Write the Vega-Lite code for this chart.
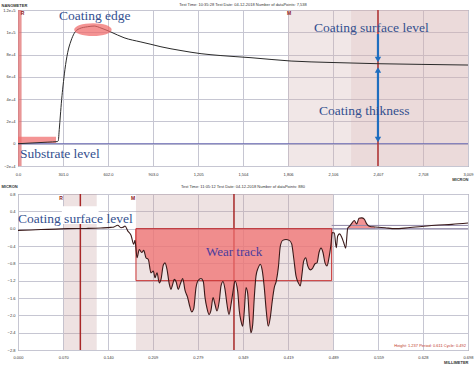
{
  "$schema": "https://vega.github.io/schema/vega-lite/v6.json",
  "background": "white",
  "padding": {"left": 0, "top": 2, "right": 0, "bottom": 0},
  "spacing": 28,
  "bounds": "flush",
  "config": {
    "font": "Liberation Sans",
    "view": {"stroke": "#777777", "strokeWidth": 1},
    "axis": {"grid": true, "gridColor": "#C6C6D2", "gridWidth": 1, "gridOpacity": 1, "domain": false, "ticks": false, "labelFontSize": 4, "labelColor": "#333333", "titleFontSize": 4, "titleFontWeight": "bold", "titleColor": "#333333", "labelOverlap": false, "labelFlush": false},
    "title": {"fontSize": 4, "fontWeight": "normal", "color": "#333333", "font": "Liberation Sans"}
  },
  "datasets": {
    "top": [
      {"micron": 0, "nm": 0}, {"micron": 100, "nm": 700}, {"micron": 200, "nm": 1400}, {"micron": 262, "nm": 1900},
      {"micron": 269, "nm": 2500}, {"micron": 276, "nm": 12900}, {"micron": 283, "nm": 24900}, {"micron": 292, "nm": 39800},
      {"micron": 301, "nm": 51800}, {"micron": 314, "nm": 66800}, {"micron": 332, "nm": 81700}, {"micron": 354, "nm": 92200},
      {"micron": 376, "nm": 99100}, {"micron": 410, "nm": 103200}, {"micron": 466, "nm": 105000}, {"micron": 510, "nm": 105600},
      {"micron": 555, "nm": 103800}, {"micron": 622, "nm": 100200}, {"micron": 709, "nm": 95100}, {"micron": 822, "nm": 91300},
      {"micron": 889, "nm": 89200}, {"micron": 956, "nm": 87000}, {"micron": 1090, "nm": 83600}, {"micron": 1224, "nm": 80800},
      {"micron": 1357, "nm": 79100}, {"micron": 1558, "nm": 77200}, {"micron": 1826, "nm": 74200}, {"micron": 2093, "nm": 72900},
      {"micron": 2407, "nm": 71800}, {"micron": 2695, "nm": 71200}, {"micron": 3009, "nm": 70600}
    ],
    "bottom": [
      {"mm": 0.0, "h": -0.04}, {"mm": 0.0202, "h": -0.03}, {"mm": 0.0357, "h": -0.02}, {"mm": 0.0589, "h": -0.01},
      {"mm": 0.0771, "h": 0.0}, {"mm": 0.1055, "h": 0.005}, {"mm": 0.1287, "h": 0.015}, {"mm": 0.1443, "h": 0.03},
      {"mm": 0.1489, "h": 0.04}, {"mm": 0.1546, "h": 0.08}, {"mm": 0.1598, "h": 0.02}, {"mm": 0.1629, "h": 0.03},
      {"mm": 0.166, "h": 0.06}, {"mm": 0.1702, "h": -0.05}, {"mm": 0.1753, "h": -0.15}, {"mm": 0.1795, "h": -0.36},
      {"mm": 0.1815, "h": -0.27}, {"mm": 0.1846, "h": -0.67}, {"mm": 0.1881, "h": -0.48}, {"mm": 0.1919, "h": -0.55},
      {"mm": 0.195, "h": -0.5}, {"mm": 0.1985, "h": -0.67}, {"mm": 0.2021, "h": -0.71}, {"mm": 0.2063, "h": -1.02},
      {"mm": 0.2099, "h": -0.98}, {"mm": 0.2125, "h": -1.13}, {"mm": 0.2156, "h": -1.02}, {"mm": 0.2192, "h": -1.25},
      {"mm": 0.2218, "h": -1.17}, {"mm": 0.2254, "h": -0.84}, {"mm": 0.228, "h": -0.79}, {"mm": 0.2311, "h": -0.94},
      {"mm": 0.2347, "h": -1.28}, {"mm": 0.2373, "h": -1.4}, {"mm": 0.24, "h": -1.28}, {"mm": 0.2424, "h": -1.17},
      {"mm": 0.2451, "h": -1.22}, {"mm": 0.2486, "h": -1.4}, {"mm": 0.2517, "h": -1.28}, {"mm": 0.2555, "h": -1.15},
      {"mm": 0.259, "h": -1.42}, {"mm": 0.2632, "h": -1.59}, {"mm": 0.2657, "h": -1.75}, {"mm": 0.2694, "h": -1.92},
      {"mm": 0.2725, "h": -1.85}, {"mm": 0.2761, "h": -1.36}, {"mm": 0.2797, "h": -1.19}, {"mm": 0.2839, "h": -1.15},
      {"mm": 0.2874, "h": -1.22}, {"mm": 0.2901, "h": -1.59}, {"mm": 0.2932, "h": -1.84}, {"mm": 0.2963, "h": -1.98},
      {"mm": 0.2994, "h": -1.88}, {"mm": 0.3025, "h": -1.59}, {"mm": 0.3056, "h": -1.75}, {"mm": 0.3087, "h": -1.9},
      {"mm": 0.3122, "h": -1.67}, {"mm": 0.3149, "h": -1.32}, {"mm": 0.318, "h": -1.22}, {"mm": 0.3211, "h": -1.4},
      {"mm": 0.3242, "h": -1.75}, {"mm": 0.3273, "h": -1.98}, {"mm": 0.3304, "h": -1.75}, {"mm": 0.3335, "h": -1.45},
      {"mm": 0.3366, "h": -1.21}, {"mm": 0.3408, "h": -1.45}, {"mm": 0.3433, "h": -1.9}, {"mm": 0.3459, "h": -2.13},
      {"mm": 0.3485, "h": -2.25}, {"mm": 0.351, "h": -1.9}, {"mm": 0.3537, "h": -1.36}, {"mm": 0.3563, "h": -1.5},
      {"mm": 0.3588, "h": -2.05}, {"mm": 0.3614, "h": -2.4}, {"mm": 0.364, "h": -2.22}, {"mm": 0.3665, "h": -1.59},
      {"mm": 0.3692, "h": -1.09}, {"mm": 0.3727, "h": -0.9}, {"mm": 0.3758, "h": -0.82}, {"mm": 0.3789, "h": -0.97},
      {"mm": 0.382, "h": -1.36}, {"mm": 0.3851, "h": -1.9}, {"mm": 0.3882, "h": -2.25}, {"mm": 0.3913, "h": -2.05},
      {"mm": 0.3944, "h": -1.67}, {"mm": 0.3975, "h": -1.36}, {"mm": 0.4006, "h": -1.21}, {"mm": 0.4038, "h": -0.9},
      {"mm": 0.4069, "h": -0.4}, {"mm": 0.4106, "h": -0.27}, {"mm": 0.4157, "h": -0.25}, {"mm": 0.4208, "h": -0.27},
      {"mm": 0.4245, "h": -0.35}, {"mm": 0.4276, "h": -0.67}, {"mm": 0.4312, "h": -1.09}, {"mm": 0.4348, "h": -1.25},
      {"mm": 0.4379, "h": -1.32}, {"mm": 0.4405, "h": -1.05}, {"mm": 0.4431, "h": -0.75}, {"mm": 0.4463, "h": -0.67},
      {"mm": 0.4494, "h": -0.86}, {"mm": 0.4534, "h": -0.95}, {"mm": 0.4571, "h": -0.91}, {"mm": 0.4607, "h": -0.81},
      {"mm": 0.4638, "h": -0.79}, {"mm": 0.4669, "h": -0.55}, {"mm": 0.47, "h": -0.45}, {"mm": 0.4731, "h": -0.55},
      {"mm": 0.4762, "h": -0.79}, {"mm": 0.4793, "h": -0.86}, {"mm": 0.4824, "h": -0.67}, {"mm": 0.4855, "h": -0.36},
      {"mm": 0.4875, "h": -0.09}, {"mm": 0.4906, "h": -0.1}, {"mm": 0.4937, "h": -0.44}, {"mm": 0.4959, "h": -0.17},
      {"mm": 0.499, "h": -0.12}, {"mm": 0.5021, "h": -0.2}, {"mm": 0.5052, "h": -0.32}, {"mm": 0.5083, "h": -0.45},
      {"mm": 0.5114, "h": 0.01}, {"mm": 0.5145, "h": 0.06}, {"mm": 0.5185, "h": 0.14}, {"mm": 0.5216, "h": 0.19},
      {"mm": 0.5254, "h": 0.11}, {"mm": 0.5289, "h": 0.24}, {"mm": 0.5331, "h": 0.25}, {"mm": 0.5371, "h": 0.22},
      {"mm": 0.5409, "h": 0.11}, {"mm": 0.546, "h": 0.05}, {"mm": 0.5538, "h": 0.04}, {"mm": 0.5693, "h": 0.02},
      {"mm": 0.5848, "h": 0.0}, {"mm": 0.6049, "h": 0.02}, {"mm": 0.6266, "h": 0.05}, {"mm": 0.6468, "h": 0.08},
      {"mm": 0.6732, "h": 0.1}, {"mm": 0.698, "h": 0.13}
    ]
  },
  "vconcat": [
    {
      "width": 450,
      "height": 156,
      "title": {"text": "Test Time: 10:35:28   Test Date: 04-12-2018   Number of dataPoints: 7,538", "offset": -4},
      "layer": [
        {
          "data": {"values": [{}]},
          "mark": {"type": "rect", "fill": "#D2AEAE", "opacity": 0.3},
          "encoding": {
            "x": {"datum": 1806, "type": "quantitative", "scale": {"domain": [0, 3009], "nice": false, "zero": false},
                  "axis": {"values": [0, 301, 602, 903, 1205, 1504, 1806, 2106, 2407, 2708, 3009], "tickCount": 30, "labelExpr": "datum.value < 1000 ? format(datum.value, '.1f') : format(datum.value, ',')", "title": "MICRON", "titleAnchor": "end", "titlePadding": 1, "labelPadding": 6, "labelOverlap": false, "labelFlush": false, "grid": true}},
            "x2": {"datum": 2227},
            "y": {"datum": -20000, "type": "quantitative", "scale": {"domain": [-20000, 120000], "nice": false, "zero": false},
                  "axis": {"values": [-20000, 0, 20000, 40000, 60000, 80000, 100000, 120000], "tickCount": 30, "format": ",", "title": "NANOMETER", "titleAngle": 0, "titleAlign": "left", "titleBaseline": "middle", "titleX": -17, "titleY": -5, "labelPadding": 3, "labelOverlap": false, "grid": true}},
            "y2": {"datum": 120000}
          }
        },
        {
          "data": {"values": [{}]},
          "mark": {"type": "rect", "fill": "#D2AEAE", "opacity": 0.45},
          "encoding": {"x": {"datum": 2227}, "x2": {"datum": 3009}, "y": {"datum": -20000}, "y2": {"datum": 120000}}
        },
        {
          "data": {"values": [{}]},
          "mark": {"type": "rect", "fill": "#E06A6A", "opacity": 0.7},
          "encoding": {"x": {"datum": 0}, "x2": {"datum": 24}, "y": {"datum": -20000}, "y2": {"datum": 120000}}
        },
        {
          "data": {"values": [{}]},
          "mark": {"type": "rect", "fill": "#F07070", "opacity": 0.75},
          "encoding": {"x": {"datum": 0}, "x2": {"datum": 254}, "y": {"datum": 600}, "y2": {"datum": 6300}}
        },
        {
          "data": {"values": [{}]},
          "mark": {"type": "rule", "color": "#6C6CB4", "strokeWidth": 1},
          "encoding": {"x": {"datum": 0}, "x2": {"datum": 3009}, "y": {"datum": 0}}
        },
        {
          "data": {"values": [{}]},
          "mark": {"type": "rule", "color": "#B03030", "strokeWidth": 1.5},
          "encoding": {"x": {"datum": 2407}, "y": {"datum": -20000}, "y2": {"datum": 120000}}
        },
        {
          "data": {"name": "top"},
          "mark": {"type": "line", "color": "#2A2A2A", "strokeWidth": 1, "interpolate": "monotone"},
          "encoding": {"x": {"field": "micron", "type": "quantitative"}, "y": {"field": "nm", "type": "quantitative"}}
        },
        {
          "data": {"values": [{}]},
          "mark": {"type": "point", "shape": "M-1,0A1,0.34,0,1,0,1,0A1,0.34,0,1,0,-1,0Z", "size": 1400, "filled": true, "fill": "#F06A6A", "opacity": 0.72, "strokeWidth": 0},
          "encoding": {"x": {"datum": 501}, "y": {"datum": 102300}}
        },
        {
          "data": {"values": [{}]},
          "mark": {"type": "rule", "color": "#1F6EBF", "strokeWidth": 2.2},
          "encoding": {"x": {"datum": 2407}, "y": {"datum": 98400}, "y2": {"datum": 75500}}
        },
        {
          "data": {"values": [{}]},
          "mark": {"type": "rule", "color": "#1F6EBF", "strokeWidth": 2.2},
          "encoding": {"x": {"datum": 2407}, "y": {"datum": 66000}, "y2": {"datum": 3800}}
        },
        {
          "data": {"values": [{"v": 75500}, {"v": 3800}]},
          "mark": {"type": "point", "shape": "triangle-down", "size": 40, "filled": true, "color": "#1F6EBF", "opacity": 1},
          "encoding": {"x": {"datum": 2407}, "y": {"field": "v", "type": "quantitative"}}
        },
        {
          "data": {"values": [{}]},
          "mark": {"type": "point", "shape": "triangle-up", "size": 40, "filled": true, "color": "#1F6EBF", "opacity": 1},
          "encoding": {"x": {"datum": 2407}, "y": {"datum": 66100}}
        },
        {
          "data": {"values": [{"t": "Coating edge", "x": 274, "y": 111000}, {"t": "Coating surface level", "x": 1979, "y": 100700}, {"t": "Coating thikness", "x": 2013, "y": 25700}, {"t": "Substrate level", "x": 13, "y": -12800}]},
          "mark": {"type": "text", "font": "Liberation Serif", "fontSize": 13.5, "color": "#34508F", "align": "left", "baseline": "alphabetic"},
          "encoding": {"x": {"field": "x", "type": "quantitative"}, "y": {"field": "y", "type": "quantitative"}, "text": {"field": "t"}}
        },
        {
          "data": {"values": [{"t": "R", "x": 30}, {"t": "M", "x": 1812}]},
          "mark": {"type": "text", "fontSize": 5, "fontWeight": "bold", "color": "#8B1A1A", "baseline": "middle"},
          "encoding": {"x": {"field": "x", "type": "quantitative"}, "y": {"datum": 117300}, "text": {"field": "t"}}
        }
      ]
    },
    {
      "width": 450,
      "height": 156,
      "title": {"text": "Test Time: 11:05:12   Test Date: 04-12-2018   Number of dataPoints: 880", "offset": -5},
      "layer": [
        {
          "data": {"values": [{}]},
          "mark": {"type": "rect", "fill": "#C8A0A0", "opacity": 0.3},
          "encoding": {
            "x": {"datum": 0.0709, "type": "quantitative", "scale": {"domain": [0, 0.698], "nice": false, "zero": false},
                  "axis": {"values": [0, 0.07, 0.14, 0.209, 0.279, 0.349, 0.419, 0.489, 0.559, 0.628, 0.698], "tickCount": 30, "format": ".3f", "title": "MILLIMETER", "titleAnchor": "end", "titlePadding": 1, "labelPadding": 5, "labelOverlap": false, "labelFlush": false, "grid": true}},
            "x2": {"datum": 0.1221},
            "y": {"datum": -2.8, "type": "quantitative", "scale": {"domain": [-2.8, 0.8], "nice": false, "zero": false},
                  "axis": {"values": [-2.8, -2.4, -2.0, -1.6, -1.2, -0.8, -0.4, 0, 0.4, 0.8], "tickCount": 30, "format": ".1f", "title": "MICRON", "titleAngle": 0, "titleAlign": "left", "titleBaseline": "middle", "titleX": -17, "titleY": -8, "labelPadding": 3, "labelOverlap": false, "grid": true}},
            "y2": {"datum": 0.8}
          }
        },
        {
          "data": {"values": [{}]},
          "mark": {"type": "rect", "fill": "#C8A0A0", "opacity": 0.3},
          "encoding": {"x": {"datum": 0.183}, "x2": {"datum": 0.489}, "y": {"datum": -2.8}, "y2": {"datum": 0.8}}
        },
        {
          "data": {"values": [{"v": 0.0967}, {"v": 0.335}]},
          "mark": {"type": "rule", "color": "#A82828", "strokeWidth": 1.5},
          "encoding": {"x": {"field": "v", "type": "quantitative"}, "y": {"datum": -2.8}, "y2": {"datum": 0.8}}
        },
        {
          "data": {"name": "bottom"},
          "transform": [{"filter": "datum.mm >= 0.1815 && datum.mm <= 0.4875"}],
          "mark": {"type": "area", "color": "#F07070", "opacity": 0.75, "interpolate": "monotone"},
          "encoding": {"x": {"field": "mm", "type": "quantitative"}, "y": {"field": "h", "type": "quantitative"}, "y2": {"datum": 0}}
        },
        {
          "data": {"name": "bottom"},
          "transform": [{"filter": "datum.mm >= 0.5114 && datum.mm <= 0.5538"}],
          "mark": {"type": "area", "color": "#F07070", "opacity": 0.75, "interpolate": "monotone"},
          "encoding": {"x": {"field": "mm", "type": "quantitative"}, "y": {"field": "h", "type": "quantitative"}, "y2": {"datum": 0}}
        },
        {
          "data": {"values": [{}]},
          "mark": {"type": "rule", "color": "#9088A8", "strokeWidth": 1},
          "encoding": {"x": {"datum": 0.183}, "x2": {"datum": 0.698}, "y": {"datum": 0}}
        },
        {
          "data": {"values": [{}]},
          "mark": {"type": "rule", "color": "#9088A8", "strokeWidth": 1},
          "encoding": {"x": {"datum": 0.4865}, "x2": {"datum": 0.698}, "y": {"datum": 0.075}}
        },
        {
          "data": {"values": [{}]},
          "mark": {"type": "rect", "fillOpacity": 0, "stroke": "#C83030", "strokeWidth": 1},
          "encoding": {"x": {"datum": 0.183}, "x2": {"datum": 0.4865}, "y": {"datum": -1.2}, "y2": {"datum": 0}}
        },
        {
          "data": {"name": "bottom"},
          "mark": {"type": "line", "color": "#3A1A1A", "strokeWidth": 1.1, "interpolate": "monotone"},
          "encoding": {"x": {"field": "mm", "type": "quantitative"}, "y": {"field": "h", "type": "quantitative"}}
        },
        {
          "data": {"values": [{}]},
          "mark": {"type": "rect", "fill": "white"},
          "encoding": {"x": {"datum": 0.068}, "x2": {"datum": 0.125}, "y": {"datum": 0.11}, "y2": {"datum": 0.52}}
        },
        {
          "data": {"values": [{}]},
          "mark": {"type": "text", "font": "Liberation Serif", "fontSize": 13.5, "color": "#34508F", "align": "left", "baseline": "alphabetic", "text": "Coating surface level"},
          "encoding": {"x": {"datum": 0.0}, "y": {"datum": 0.131}}
        },
        {
          "data": {"values": [{}]},
          "mark": {"type": "text", "font": "Liberation Serif", "fontSize": 13, "color": "#4B3C9E", "align": "left", "baseline": "alphabetic", "text": "Wear track"},
          "encoding": {"x": {"datum": 0.2916}, "y": {"datum": -0.631}}
        },
        {
          "data": {"values": [{}]},
          "mark": {"type": "text", "fontSize": 4, "color": "#C0392B", "align": "right", "baseline": "bottom", "dx": -2, "dy": -2, "text": "Height: 1.237   Period: 0.611   Cycle: 0.492"},
          "encoding": {"x": {"datum": 0.698}, "y": {"datum": -2.8}}
        },
        {
          "data": {"values": [{"t": "R", "x": 0.0667}, {"t": "M", "x": 0.1784}]},
          "mark": {"type": "text", "fontSize": 5, "fontWeight": "bold", "color": "#8B1A1A", "baseline": "middle"},
          "encoding": {"x": {"field": "x", "type": "quantitative"}, "y": {"datum": 0.708}, "text": {"field": "t"}}
        }
      ]
    }
  ]
}
